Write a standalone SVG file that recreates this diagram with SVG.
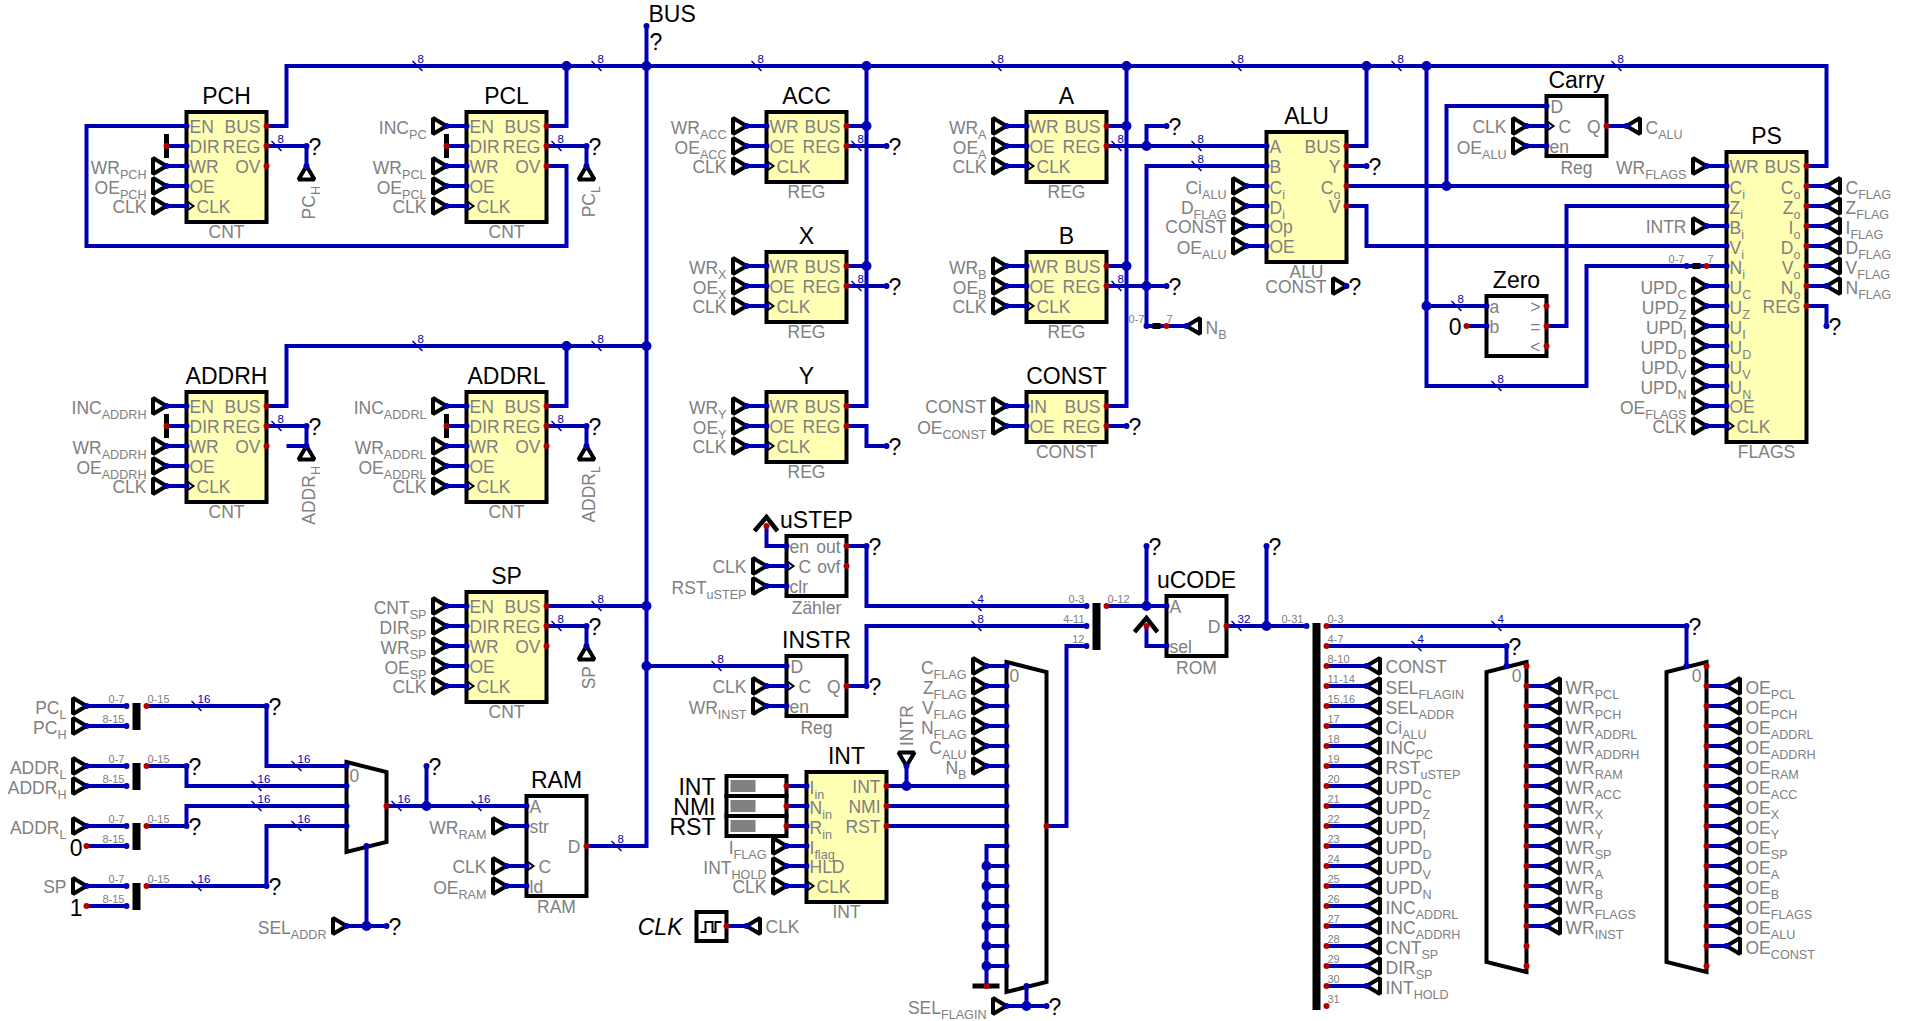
<svg xmlns="http://www.w3.org/2000/svg" width="1908" height="1021" viewBox="0 0 1908 1021">
<style>
text{font-family:"Liberation Sans",Arial,sans-serif;font-size:17.5px;fill:#808080}
.t{fill:#000;font-size:23px;text-anchor:middle}
.c{text-anchor:middle}
.e{text-anchor:end}
.s{font-size:12.6px}
.n{fill:#0000b2;font-size:11.5px}
.g{font-size:11px}
.q{fill:#000;font-size:23px}
.qe{fill:#000;font-size:23px;text-anchor:end}
.w{fill:none;stroke:#0000b2;stroke-width:4}
.tk{fill:none;stroke:#0000b2;stroke-width:1.5}
.bd,.rd,.j{fill:none;stroke-linecap:round}
.bd{stroke:#0000b2;stroke-width:6}
.rd{stroke:#b20000;stroke-width:6}
.j{stroke:#0000b2;stroke-width:10}
.tri{fill:#fff;stroke:#000;stroke-width:4;stroke-linejoin:bevel}
.y{fill:#ffffb4;stroke:#000;stroke-width:4}
.o{fill:#fff;stroke:#000;stroke-width:4}
.ck{fill:none;stroke:#000;stroke-width:2}
.bar{stroke:#000;stroke-width:5;fill:none}
.up{stroke:#000;stroke-width:4.5;fill:none}
</style>
<defs>
<g id="tr"><path class="tri" d="M0,0L-13.5,-8V8Z"/><path class="bd" d="M0,0h.01"/></g>
<g id="tl"><path class="tri" d="M0,0L13.5,-8V8Z"/><path class="bd" d="M0,0h.01"/></g>
<g id="tu"><path class="tri" d="M0,0L-8,13.5H8Z"/><path class="bd" d="M0,0h.01"/></g>
<g id="td"><path class="tri" d="M0,0L-8,-13.5H8Z"/><path class="bd" d="M0,0h.01"/></g>
</defs>
<g transform="translate(-.5,0)">
<g id="connectors">
<path class="w" d="M1807,166H1827V66H287V126H267M547,126H567V66M647,26V846H587M267,406H287V346H647M547,406H567V346M547,606H647M647,666H787M187,126H87V246H567V166H547"/>
<path class="w" d="M267,146H307V166M547,146H587V166M267,426H307V446M287,446H307M547,426H587V446M547,626H587V646"/>
<path class="w" d="M167,146h20m-20,20h20m-20,20h20m-20,20h20M447,126h20m-20,20h20m-20,20h20m-20,20h20m-20,20h20M167,406h20m-20,20h20m-20,20h20m-20,20h20m-20,20h20M447,406h20m-20,20h20m-20,20h20m-20,20h20m-20,20h20M447,606h20m-20,20h20m-20,20h20m-20,20h20m-20,20h20"/>
<path class="w" d="M747,126h20m-20,20h20m-20,20h20M747,266h20m-20,20h20m-20,20h20M747,406h20m-20,20h20m-20,20h20M1007,126h20m-20,20h20m-20,20h20M1007,266h20m-20,20h20m-20,20h20M1007,406h20m-20,20h20"/>
<path class="w" d="M867,66V406H847M847,126H867M847,266H867M847,146H887M847,286H887M847,426H867V446H887M1127,66V406H1107M1107,126H1127M1107,266H1127M1107,426H1127"/>
<path class="w" d="M1107,146H1267M1147,146V126H1167M1107,286H1167M1267,166H1147V326H1187"/>
<path class="w" d="M1347,146H1367V66M1347,166H1367M1347,186H1727M1347,206H1367V246H1727M1247,186h20m-20,20h20m-20,20h20m-20,20h20"/>
<path class="w" d="M1447,186V106H1547M1527,126h20m-20,20h20M1607,126H1627"/>
<path class="w" d="M1427,66V386H1587V266H1727M1427,306H1487M1467,326H1487M1547,326H1567V206H1727"/>
<path class="w" d="M1707,166h20M1707,226h20M1707,286h20m-20,20h20m-20,20h20m-20,20h20m-20,20h20m-20,20h20m-20,20h20m-20,20h20M1807,186h20m-20,20h20m-20,20h20m-20,20h20m-20,20h20m-20,20h20M1807,306H1827V326"/>
<path class="w" d="M787,546H767V526M767,566h20m-20,20h20M847,546H867V606H1087M767,686h20m-20,20h20M847,686H867V626H1087M1087,646H1067V826H1047"/>
<path class="w" d="M1107,606H1167M1147,606V546M1167,646H1147V626M1227,626H1307M1267,626V546M1327,626H1687V666M1327,646H1507V666"/>
<path class="w" d="M1327,666h40m-40,20h40m-40,20h40m-40,20h40m-40,20h40m-40,20h40m-40,20h40m-40,20h40m-40,20h40m-40,20h40m-40,20h40m-40,20h40m-40,20h40m-40,20h40m-40,20h40m-40,20h40m-40,20h40"/>
<path class="w" d="M1527,686h20m-20,20h20m-20,20h20m-20,20h20m-20,20h20m-20,20h20m-20,20h20m-20,20h20m-20,20h20m-20,20h20m-20,20h20m-20,20h20m-20,20h20M1707,686h20m-20,20h20m-20,20h20m-20,20h20m-20,20h20m-20,20h20m-20,20h20m-20,20h20m-20,20h20m-20,20h20m-20,20h20m-20,20h20m-20,20h20m-20,20h20"/>
<path class="w" d="M987,666h20m-20,20h20m-20,20h20m-20,20h20m-20,20h20m-20,20h20M887,786H1007M887,806H1007M887,826H1007M907,786V766M787,786h20m-20,20h20m-20,20h20m-20,20h20m-20,20h20m-20,20h20M1007,846H987V986M987,866h20m-20,20h20m-20,20h20m-20,20h20m-20,20h20m-20,20h20M1007,1006H1047M1027,1006V986M727,926H747"/>
<path class="w" d="M87,706H127M87,726H127M147,706H267V766H347M87,766H127M87,786H127M147,766H187V786H347M87,826H127M87,846H127M147,826H187V806H347M87,886H127M87,906H127M147,886H267V826H347M387,806H527M427,806V766M367,846V926M347,926H387M507,826h20M507,866h20M507,886h20"/>
<path class="j" d="M567,66h.01M647,66h.01M867,66h.01M1127,66h.01M1367,66h.01M1427,66h.01M567,346h.01M647,346h.01M647,606h.01M647,666h.01M867,126h.01M867,266h.01M1127,126h.01M1127,266h.01M1147,146h.01M1147,286h.01M1447,186h.01M1427,306h.01M427,806h.01M367,926h.01M1147,606h.01M1267,626h.01M907,786h.01M1027,1006h.01M987,866h.01M987,886h.01M987,906h.01M987,926h.01M987,946h.01M987,966h.01"/>
<path class="tk" d="M413,61l10,10M592,61l10,10M752,61l10,10M992,61l10,10M1232,61l10,10M1392,61l10,10M1612,61l10,10M413,341l10,10M592,341l10,10M272,141l10,10M552,141l10,10M272,421l10,10M552,421l10,10M552,621l10,10M852,141l10,10M852,281l10,10M1112,141l10,10M1112,281l10,10M592,601l10,10M712,661l10,10M1192,141l10,10M1192,161l10,10M1452,301l10,10M1492,381l10,10M612,841l10,10M972,601l10,10M1412,641l10,10M1492,621l10,10M972,621l10,10M1232,621l10,10M192,701l10,10M292,761l10,10M252,781l10,10M252,801l10,10M292,821l10,10M192,881l10,10M392,801l10,10M472,801l10,10"/>
<text class="n" x="418" y="63">8</text><text class="n" x="598" y="63">8</text><text class="n" x="758" y="63">8</text><text class="n" x="998" y="63">8</text><text class="n" x="1238" y="63">8</text><text class="n" x="1398" y="63">8</text><text class="n" x="1618" y="63">8</text>
<text class="n" x="418" y="343">8</text><text class="n" x="598" y="343">8</text>
<text class="n" x="278" y="143">8</text><text class="n" x="558" y="143">8</text><text class="n" x="278" y="423">8</text><text class="n" x="558" y="423">8</text><text class="n" x="558" y="623">8</text>
<text class="n" x="858" y="143">8</text><text class="n" x="858" y="283">8</text><text class="n" x="1118" y="143">8</text><text class="n" x="1118" y="283">8</text>
<text class="n" x="598" y="603">8</text><text class="n" x="718" y="663">8</text><text class="n" x="1198" y="143">8</text><text class="n" x="1198" y="163">8</text><text class="n" x="1458" y="303">8</text><text class="n" x="1498" y="383">8</text><text class="n" x="618" y="843">8</text>
<text class="n" x="978" y="603">4</text><text class="n" x="978" y="623">8</text><text class="n" x="1418" y="643">4</text><text class="n" x="1498" y="623">4</text><text class="n" x="1238" y="623">32</text>
<text class="n" x="198" y="703">16</text><text class="n" x="298" y="763">16</text><text class="n" x="258" y="783">16</text><text class="n" x="258" y="803">16</text><text class="n" x="298" y="823">16</text><text class="n" x="198" y="883">16</text><text class="n" x="398" y="803">16</text><text class="n" x="478" y="803">16</text>
</g>

<g id="PCH" transform="translate(187,126)"><rect class="y" y="-14" width="80" height="110"/><text class="t" x="40" y="-22">PCH</text><text class="c" x="40" y="112">CNT</text><text x="3" y="7">EN</text><text x="3" y="27">DIR</text><text x="3" y="47">WR</text><text x="3" y="67">OE</text><text x="10" y="87">CLK</text><text class="e" x="74" y="7">BUS</text><text class="e" x="74" y="27">REG</text><text class="e" x="74" y="47">OV</text><path class="ck" d="M0,75L7,80 0,85"/><path class="bd" d="M0,0h.01M0,20h.01M0,40h.01M0,60h.01M0,80h.01"/><path class="rd" d="M80,0h.01M80,20h.01M80,40h.01"/></g>
<g id="PCL" transform="translate(467,126)"><rect class="y" y="-14" width="80" height="110"/><text class="t" x="40" y="-22">PCL</text><text class="c" x="40" y="112">CNT</text><text x="3" y="7">EN</text><text x="3" y="27">DIR</text><text x="3" y="47">WR</text><text x="3" y="67">OE</text><text x="10" y="87">CLK</text><text class="e" x="74" y="7">BUS</text><text class="e" x="74" y="27">REG</text><text class="e" x="74" y="47">OV</text><path class="ck" d="M0,75L7,80 0,85"/><path class="bd" d="M0,0h.01M0,20h.01M0,40h.01M0,60h.01M0,80h.01"/><path class="rd" d="M80,0h.01M80,20h.01M80,40h.01"/></g>
<g id="ADDRH" transform="translate(187,406)"><rect class="y" y="-14" width="80" height="110"/><text class="t" x="40" y="-22">ADDRH</text><text class="c" x="40" y="112">CNT</text><text x="3" y="7">EN</text><text x="3" y="27">DIR</text><text x="3" y="47">WR</text><text x="3" y="67">OE</text><text x="10" y="87">CLK</text><text class="e" x="74" y="7">BUS</text><text class="e" x="74" y="27">REG</text><text class="e" x="74" y="47">OV</text><path class="ck" d="M0,75L7,80 0,85"/><path class="bd" d="M0,0h.01M0,20h.01M0,40h.01M0,60h.01M0,80h.01"/><path class="rd" d="M80,0h.01M80,20h.01M80,40h.01"/></g>
<g id="ADDRL" transform="translate(467,406)"><rect class="y" y="-14" width="80" height="110"/><text class="t" x="40" y="-22">ADDRL</text><text class="c" x="40" y="112">CNT</text><text x="3" y="7">EN</text><text x="3" y="27">DIR</text><text x="3" y="47">WR</text><text x="3" y="67">OE</text><text x="10" y="87">CLK</text><text class="e" x="74" y="7">BUS</text><text class="e" x="74" y="27">REG</text><text class="e" x="74" y="47">OV</text><path class="ck" d="M0,75L7,80 0,85"/><path class="bd" d="M0,0h.01M0,20h.01M0,40h.01M0,60h.01M0,80h.01"/><path class="rd" d="M80,0h.01M80,20h.01M80,40h.01"/></g>
<g id="SP" transform="translate(467,606)"><rect class="y" y="-14" width="80" height="110"/><text class="t" x="40" y="-22">SP</text><text class="c" x="40" y="112">CNT</text><text x="3" y="7">EN</text><text x="3" y="27">DIR</text><text x="3" y="47">WR</text><text x="3" y="67">OE</text><text x="10" y="87">CLK</text><text class="e" x="74" y="7">BUS</text><text class="e" x="74" y="27">REG</text><text class="e" x="74" y="47">OV</text><path class="ck" d="M0,75L7,80 0,85"/><path class="bd" d="M0,0h.01M0,20h.01M0,40h.01M0,60h.01M0,80h.01"/><path class="rd" d="M80,0h.01M80,20h.01M80,40h.01"/></g>

<g id="ACC" transform="translate(767,126)"><rect class="y" y="-14" width="80" height="70"/><text class="t" x="40" y="-22">ACC</text><text class="c" x="40" y="72">REG</text><text x="3" y="7">WR</text><text x="3" y="27">OE</text><text x="10" y="47">CLK</text><text class="e" x="74" y="7">BUS</text><text class="e" x="74" y="27">REG</text><path class="ck" d="M0,35L7,40 0,45"/><path class="bd" d="M0,0h.01M0,20h.01M0,40h.01"/><path class="rd" d="M80,0h.01M80,20h.01"/></g>
<g id="X" transform="translate(767,266)"><rect class="y" y="-14" width="80" height="70"/><text class="t" x="40" y="-22">X</text><text class="c" x="40" y="72">REG</text><text x="3" y="7">WR</text><text x="3" y="27">OE</text><text x="10" y="47">CLK</text><text class="e" x="74" y="7">BUS</text><text class="e" x="74" y="27">REG</text><path class="ck" d="M0,35L7,40 0,45"/><path class="bd" d="M0,0h.01M0,20h.01M0,40h.01"/><path class="rd" d="M80,0h.01M80,20h.01"/></g>
<g id="Y" transform="translate(767,406)"><rect class="y" y="-14" width="80" height="70"/><text class="t" x="40" y="-22">Y</text><text class="c" x="40" y="72">REG</text><text x="3" y="7">WR</text><text x="3" y="27">OE</text><text x="10" y="47">CLK</text><text class="e" x="74" y="7">BUS</text><text class="e" x="74" y="27">REG</text><path class="ck" d="M0,35L7,40 0,45"/><path class="bd" d="M0,0h.01M0,20h.01M0,40h.01"/><path class="rd" d="M80,0h.01M80,20h.01"/></g>
<g id="A" transform="translate(1027,126)"><rect class="y" y="-14" width="80" height="70"/><text class="t" x="40" y="-22">A</text><text class="c" x="40" y="72">REG</text><text x="3" y="7">WR</text><text x="3" y="27">OE</text><text x="10" y="47">CLK</text><text class="e" x="74" y="7">BUS</text><text class="e" x="74" y="27">REG</text><path class="ck" d="M0,35L7,40 0,45"/><path class="bd" d="M0,0h.01M0,20h.01M0,40h.01"/><path class="rd" d="M80,0h.01M80,20h.01"/></g>
<g id="B" transform="translate(1027,266)"><rect class="y" y="-14" width="80" height="70"/><text class="t" x="40" y="-22">B</text><text class="c" x="40" y="72">REG</text><text x="3" y="7">WR</text><text x="3" y="27">OE</text><text x="10" y="47">CLK</text><text class="e" x="74" y="7">BUS</text><text class="e" x="74" y="27">REG</text><path class="ck" d="M0,35L7,40 0,45"/><path class="bd" d="M0,0h.01M0,20h.01M0,40h.01"/><path class="rd" d="M80,0h.01M80,20h.01"/></g>
<g id="CONST" transform="translate(1027,406)"><rect class="y" y="-14" width="80" height="50"/><text class="t" x="40" y="-22">CONST</text><text class="c" x="40" y="52">CONST</text><text x="3" y="7">IN</text><text x="3" y="27">OE</text><text class="e" x="74" y="7">BUS</text><text class="e" x="74" y="27">REG</text><path class="bd" d="M0,0h.01M0,20h.01"/><path class="rd" d="M80,0h.01M80,20h.01"/></g>

<g id="ALU" transform="translate(1267,146)"><rect class="y" y="-14" width="80" height="130"/><text class="t" x="40" y="-22">ALU</text><text class="c" x="40" y="132">ALU</text><text x="3" y="7">A</text><text x="3" y="27">B</text><text x="3" y="47.5">C<tspan class="s" dy="5.5">i</tspan></text><text x="3" y="67.5">D<tspan class="s" dy="5.5">i</tspan></text><text x="3" y="87">Op</text><text x="3" y="107">OE</text><text class="e" x="74" y="7">BUS</text><text class="e" x="74" y="27">Y</text><text class="e" x="74" y="47.5">C<tspan class="s" dy="5.5">o</tspan></text><text class="e" x="74" y="67">V</text><path class="bd" d="M0,0h.01M0,20h.01M0,40h.01M0,60h.01M0,80h.01M0,100h.01"/><path class="rd" d="M80,0h.01M80,20h.01M80,40h.01M80,60h.01"/></g>
<g id="Carry" transform="translate(1547,106)"><rect class="o" y="-10" width="60" height="60"/><text class="t" x="30" y="-18">Carry</text><text class="c" x="30" y="68">Reg</text><text x="4" y="7">D</text><text x="12" y="27">C</text><text x="3" y="47">en</text><text class="e" x="54" y="27">Q</text><path class="ck" d="M0,15L7,20 0,25"/><path class="bd" d="M0,0h.01M0,20h.01M0,40h.01"/><path class="rd" d="M60,20h.01"/></g>
<g id="Zero" transform="translate(1487,306)"><rect class="o" y="-10" width="60" height="60"/><text class="t" x="30" y="-18">Zero</text><text x="3" y="7">a</text><text x="3" y="27">b</text><text class="e" x="54" y="7">&gt;</text><text class="e" x="54" y="27">=</text><text class="e" x="54" y="47">&lt;</text><path class="bd" d="M0,0h.01M0,20h.01"/><path class="rd" d="M60,0h.01M60,20h.01M60,40h.01"/></g>
<g id="PS" transform="translate(1727,166)"><rect class="y" y="-14" width="80" height="290"/><text class="t" x="40" y="-22">PS</text><text class="c" x="40" y="292">FLAGS</text><text x="3" y="7">WR</text><text x="3" y="27.5">C<tspan class="s" dy="5.5">i</tspan></text><text x="3" y="47.5">Z<tspan class="s" dy="5.5">i</tspan></text><text x="3" y="67.5">B<tspan class="s" dy="5.5">i</tspan></text><text x="3" y="87.5">V<tspan class="s" dy="5.5">i</tspan></text><text x="3" y="107.5">N<tspan class="s" dy="5.5">i</tspan></text><text x="3" y="127.5">U<tspan class="s" dy="5.5">C</tspan></text><text x="3" y="147.5">U<tspan class="s" dy="5.5">Z</tspan></text><text x="3" y="167.5">U<tspan class="s" dy="5.5">I</tspan></text><text x="3" y="187.5">U<tspan class="s" dy="5.5">D</tspan></text><text x="3" y="207.5">U<tspan class="s" dy="5.5">V</tspan></text><text x="3" y="227.5">U<tspan class="s" dy="5.5">N</tspan></text><text x="3" y="247">OE</text><text x="10" y="267">CLK</text><text class="e" x="74" y="7">BUS</text><text class="e" x="74" y="27.5">C<tspan class="s" dy="5.5">o</tspan></text><text class="e" x="74" y="47.5">Z<tspan class="s" dy="5.5">o</tspan></text><text class="e" x="74" y="67.5">I<tspan class="s" dy="5.5">o</tspan></text><text class="e" x="74" y="87.5">D<tspan class="s" dy="5.5">o</tspan></text><text class="e" x="74" y="107.5">V<tspan class="s" dy="5.5">o</tspan></text><text class="e" x="74" y="127.5">N<tspan class="s" dy="5.5">o</tspan></text><text class="e" x="74" y="147">REG</text><path class="ck" d="M0,255L7,260 0,265"/><path class="bd" d="M0,0h.01M0,20h.01M0,40h.01M0,60h.01M0,80h.01M0,100h.01M0,120h.01M0,140h.01M0,160h.01M0,180h.01M0,200h.01M0,220h.01M0,240h.01M0,260h.01"/><path class="rd" d="M80,0h.01M80,20h.01M80,40h.01M80,60h.01M80,80h.01M80,100h.01M80,120h.01M80,140h.01"/></g>

<g id="uSTEP" transform="translate(787,546)"><rect class="o" y="-10" width="60" height="60"/><text class="t" x="30" y="-18">uSTEP</text><text class="c" x="30" y="68">Zähler</text><text x="3" y="7">en</text><text x="12" y="27">C</text><text x="3" y="47">clr</text><text class="e" x="54" y="7">out</text><text class="e" x="54" y="27">ovf</text><path class="ck" d="M0,15L7,20 0,25"/><path class="bd" d="M0,0h.01M0,20h.01M0,40h.01"/><path class="rd" d="M60,0h.01M60,20h.01"/></g>
<g id="INSTR" transform="translate(787,666)"><rect class="o" y="-10" width="60" height="60"/><text class="t" x="30" y="-18">INSTR</text><text class="c" x="30" y="68">Reg</text><text x="4" y="7">D</text><text x="12" y="27">C</text><text x="3" y="47">en</text><text class="e" x="54" y="27">Q</text><path class="ck" d="M0,15L7,20 0,25"/><path class="bd" d="M0,0h.01M0,20h.01M0,40h.01"/><path class="rd" d="M60,20h.01"/></g>
<g id="uCODE" transform="translate(1167,606)"><rect class="o" y="-10" width="60" height="60"/><text class="t" x="30" y="-18">uCODE</text><text class="c" x="30" y="68">ROM</text><text x="3" y="7">A</text><text x="3" y="47">sel</text><text class="e" x="54" y="27">D</text><path class="bd" d="M0,0h.01M0,40h.01"/><path class="rd" d="M60,20h.01"/></g>
<g id="RAM" transform="translate(527,806)"><rect class="o" y="-10" width="60" height="100"/><text class="t" x="30" y="-18">RAM</text><text class="c" x="30" y="107">RAM</text><text x="3" y="7">A</text><text x="3" y="27">str</text><text x="12" y="67">C</text><text x="3" y="87">ld</text><text class="e" x="54" y="47">D</text><path class="ck" d="M0,55L7,60 0,65"/><path class="bd" d="M0,0h.01M0,20h.01M0,60h.01M0,80h.01"/><path class="rd" d="M60,40h.01"/></g>
<g id="INT" transform="translate(807,786)"><rect class="y" y="-14" width="80" height="130"/><text class="t" x="40" y="-22">INT</text><text class="c" x="40" y="132">INT</text><text x="3" y="7.5">I<tspan class="s" dy="5.5">in</tspan></text><text x="3" y="27.5">N<tspan class="s" dy="5.5">in</tspan></text><text x="3" y="47.5">R<tspan class="s" dy="5.5">in</tspan></text><text x="3" y="67.5">I<tspan class="s" dy="5.5">flag</tspan></text><text x="3" y="87">HLD</text><text x="10" y="107">CLK</text><text class="e" x="74" y="7">INT</text><text class="e" x="74" y="27">NMI</text><text class="e" x="74" y="47">RST</text><path class="ck" d="M0,95L7,100 0,105"/><path class="bd" d="M0,0h.01M0,20h.01M0,40h.01M0,60h.01M0,80h.01M0,100h.01"/><path class="rd" d="M80,0h.01M80,20h.01M80,40h.01"/></g>

<g id="mux-addr"><path class="o" d="M347,762L387,772V842L347,852Z"/><text x="350" y="782">0</text><path class="bd" d="M347,766h.01M347,786h.01M347,806h.01M347,826h.01M367,846h.01"/><path class="rd" d="M387,806h.01"/></g>
<g id="mux-flag"><path class="o" d="M1007,662L1047,672V982L1007,992Z"/><text x="1010" y="682">0</text><path class="bd" d="M1007,666h.01M1007,686h.01M1007,706h.01M1007,726h.01M1007,746h.01M1007,766h.01M1007,786h.01M1007,806h.01M1007,826h.01M1007,846h.01M1007,866h.01M1007,886h.01M1007,906h.01M1007,926h.01M1007,946h.01M1007,966h.01M1027,986h.01"/><path class="rd" d="M1047,826h.01"/></g>
<g id="mux-wr"><path class="o" d="M1527,662V972L1487,962V672Z"/><text class="e" x="1522" y="682">0</text><path class="bd" d="M1507,666h.01"/><path class="rd" d="M1527,666h.01M1527,686h.01M1527,706h.01M1527,726h.01M1527,746h.01M1527,766h.01M1527,786h.01M1527,806h.01M1527,826h.01M1527,846h.01M1527,866h.01M1527,886h.01M1527,906h.01M1527,926h.01M1527,946h.01M1527,966h.01"/></g>
<g id="mux-oe"><path class="o" d="M1707,662V972L1667,962V672Z"/><text class="e" x="1702" y="682">0</text><path class="bd" d="M1687,666h.01"/><path class="rd" d="M1707,666h.01M1707,686h.01M1707,706h.01M1707,726h.01M1707,746h.01M1707,766h.01M1707,786h.01M1707,806h.01M1707,826h.01M1707,846h.01M1707,866h.01M1707,886h.01M1707,906h.01M1707,926h.01M1707,946h.01M1707,966h.01"/></g>

<g id="split-1"><rect x="133" y="703" width="8" height="27"/><text class="g e" x="125" y="703">0-7</text><text class="g e" x="125" y="723">8-15</text><text class="g" x="148" y="703">0-15</text><path class="bd" d="M127,706h.01M127,726h.01"/><path class="rd" d="M147,706h.01"/></g>
<g id="split-2"><rect x="133" y="763" width="8" height="27"/><text class="g e" x="125" y="763">0-7</text><text class="g e" x="125" y="783">8-15</text><text class="g" x="148" y="763">0-15</text><path class="bd" d="M127,766h.01M127,786h.01"/><path class="rd" d="M147,766h.01"/></g>
<g id="split-3"><rect x="133" y="823" width="8" height="27"/><text class="g e" x="125" y="823">0-7</text><text class="g e" x="125" y="843">8-15</text><text class="g" x="148" y="823">0-15</text><path class="bd" d="M127,826h.01M127,846h.01"/><path class="rd" d="M147,826h.01"/></g>
<g id="split-4"><rect x="133" y="883" width="8" height="27"/><text class="g e" x="125" y="883">0-7</text><text class="g e" x="125" y="903">8-15</text><text class="g" x="148" y="883">0-15</text><path class="bd" d="M127,886h.01M127,906h.01"/><path class="rd" d="M147,886h.01"/></g>
<g id="split-nb"><rect x="1153" y="323" width="8" height="6"/><text class="g e" x="1145" y="323">0-7</text><text class="g c" x="1170" y="323">7</text><path class="bd" d="M1147,326h.01"/><path class="rd" d="M1167,326h.01"/></g>
<g id="split-ni"><rect x="1693" y="263" width="8" height="6"/><text class="g e" x="1685" y="263">0-7</text><text class="g c" x="1711" y="263">7</text><path class="bd" d="M1687,266h.01"/><path class="rd" d="M1707,266h.01"/></g>
<g id="split-addr"><rect x="1093" y="603" width="8" height="47"/><text class="g e" x="1085" y="603">0-3</text><text class="g e" x="1085" y="623">4-11</text><text class="g e" x="1085" y="643">12</text><text class="g" x="1108" y="603">0-12</text><path class="bd" d="M1087,606h.01M1087,626h.01M1087,646h.01"/><path class="rd" d="M1107,606h.01"/></g>
<g id="split-rom"><rect x="1313" y="623" width="8" height="387"/><text class="g e" x="1304" y="623">0-31</text><path class="bd" d="M1307,626h.01"/><path class="rd" d="M1327,626h.01M1327,646h.01M1327,666h.01M1327,686h.01M1327,706h.01M1327,726h.01M1327,746h.01M1327,766h.01M1327,786h.01M1327,806h.01M1327,826h.01M1327,846h.01M1327,866h.01M1327,886h.01M1327,906h.01M1327,926h.01M1327,946h.01M1327,966h.01M1327,986h.01M1327,1006h.01"/><text class="g" x="1328" y="623">0-3</text><text class="g" x="1328" y="643">4-7</text><text class="g" x="1328" y="663">8-10</text><text class="g" x="1328" y="683">11-14</text><text class="g" x="1328" y="703">15,16</text><text class="g" x="1328" y="723">17</text><text class="g" x="1328" y="743">18</text><text class="g" x="1328" y="763">19</text><text class="g" x="1328" y="783">20</text><text class="g" x="1328" y="803">21</text><text class="g" x="1328" y="823">22</text><text class="g" x="1328" y="843">23</text><text class="g" x="1328" y="863">24</text><text class="g" x="1328" y="883">25</text><text class="g" x="1328" y="903">26</text><text class="g" x="1328" y="923">27</text><text class="g" x="1328" y="943">28</text><text class="g" x="1328" y="963">29</text><text class="g" x="1328" y="983">30</text><text class="g" x="1328" y="1003">31</text></g>

<g id="btn-int"><rect class="o" x="727" y="776" width="60" height="20"/><rect x="731" y="780" width="25" height="12" fill="#808080"/><text class="qe" x="716" y="795">INT</text><path class="rd" d="M787,786h.01"/></g>
<g id="btn-nmi"><rect class="o" x="727" y="796" width="60" height="20"/><rect x="731" y="800" width="25" height="12" fill="#808080"/><text class="qe" x="716" y="815">NMI</text><path class="rd" d="M787,806h.01"/></g>
<g id="btn-rst"><rect class="o" x="727" y="816" width="60" height="20"/><rect x="731" y="820" width="25" height="12" fill="#808080"/><text class="qe" x="716" y="835">RST</text><path class="rd" d="M787,826h.01"/></g>
<g id="clock"><rect class="o" x="697" y="912" width="30" height="29"/><path fill="none" stroke="#000" stroke-width="2" d="M701,932h5V922h7v10h3V922h6"/><text class="qe" x="683" y="935" font-style="italic">CLK</text><path class="rd" d="M727,926h.01"/></g>

<g id="bar-pch"><path class="bar" d="M167,134V158"/><path class="rd" d="M167,146h.01"/></g>
<g id="bar-pcl"><path class="bar" d="M447,134V158"/><path class="rd" d="M447,146h.01"/></g>
<g id="bar-addrh"><path class="bar" d="M167,414V438"/><path class="rd" d="M167,426h.01"/></g>
<g id="bar-addrl"><path class="bar" d="M447,414V438"/><path class="rd" d="M447,426h.01"/></g>
<g id="gnd-flag"><path class="bar" d="M973,986H1000"/><path class="rd" d="M987,986h.01"/></g>
<g id="vdd-ustep"><path class="up" d="M755,531L767,517 778,531"/><path class="rd" d="M767,526h.01"/></g>
<g id="vdd-rom"><path class="up" d="M1135,632L1147,618 1158,632"/><path class="rd" d="M1147,626h.01"/></g>
<g id="const-0a"><text class="qe" x="1462" y="335">0</text><path class="rd" d="M1467,326h.01"/></g>
<g id="const-0b"><text class="qe" x="83" y="856">0</text><path class="rd" d="M87,846h.01"/></g>
<g id="const-1"><text class="qe" x="83" y="916">1</text><path class="rd" d="M87,906h.01"/></g>

<g id="bus"><path class="bd" d="M647,26h.01"/><text class="q" x="649" y="22">BUS</text><text class="q" x="650" y="50">?</text></g>
<g id="q1"><path class="bd" d="M307,146h.01"/><text class="q" x="309" y="155">?</text></g>
<g id="q2"><path class="bd" d="M587,146h.01"/><text class="q" x="589" y="155">?</text></g>
<g id="q3"><path class="bd" d="M307,426h.01"/><text class="q" x="309" y="435">?</text></g>
<g id="q4"><path class="bd" d="M587,426h.01"/><text class="q" x="589" y="435">?</text></g>
<g id="q5"><path class="bd" d="M587,626h.01"/><text class="q" x="589" y="635">?</text></g>
<g id="q6"><path class="bd" d="M887,146h.01"/><text class="q" x="889" y="155">?</text></g>
<g id="q7"><path class="bd" d="M887,286h.01"/><text class="q" x="889" y="295">?</text></g>
<g id="q8"><path class="bd" d="M887,446h.01"/><text class="q" x="889" y="455">?</text></g>
<g id="q9"><path class="bd" d="M1167,126h.01"/><text class="q" x="1169" y="135">?</text></g>
<g id="q10"><path class="bd" d="M1167,286h.01"/><text class="q" x="1169" y="295">?</text></g>
<g id="q11"><path class="bd" d="M1127,426h.01"/><text class="q" x="1129" y="435">?</text></g>
<g id="q12"><path class="bd" d="M1367,166h.01"/><text class="q" x="1369" y="175">?</text></g>
<g id="q13"><path class="bd" d="M1827,326h.01"/><text class="q" x="1829" y="335">?</text></g>
<g id="q14"><path class="bd" d="M267,706h.01"/><text class="q" x="269" y="715">?</text></g>
<g id="q15"><path class="bd" d="M187,766h.01"/><text class="q" x="189" y="775">?</text></g>
<g id="q16"><path class="bd" d="M187,826h.01"/><text class="q" x="189" y="835">?</text></g>
<g id="q17"><path class="bd" d="M267,886h.01"/><text class="q" x="269" y="895">?</text></g>
<g id="q18"><path class="bd" d="M427,766h.01"/><text class="q" x="429" y="775">?</text></g>
<g id="q19"><path class="bd" d="M387,926h.01"/><text class="q" x="389" y="935">?</text></g>
<g id="q20"><path class="bd" d="M867,546h.01"/><text class="q" x="869" y="555">?</text></g>
<g id="q21"><path class="bd" d="M867,686h.01"/><text class="q" x="869" y="695">?</text></g>
<g id="q22"><path class="bd" d="M1147,546h.01"/><text class="q" x="1149" y="555">?</text></g>
<g id="q23"><path class="bd" d="M1267,546h.01"/><text class="q" x="1269" y="555">?</text></g>
<g id="q24"><path class="bd" d="M1507,646h.01"/><text class="q" x="1509" y="655">?</text></g>
<g id="q25"><path class="bd" d="M1687,626h.01"/><text class="q" x="1689" y="635">?</text></g>
<g id="q26"><path class="bd" d="M1047,1006h.01"/><text class="q" x="1049" y="1015">?</text></g>

<g id="wrpch" transform="translate(167,166)"><use href="#tr"/><text class="e" x="-20" y="7.5">WR<tspan class="s" dy="5.5">PCH</tspan></text></g>
<g id="oepch" transform="translate(167,186)"><use href="#tr"/><text class="e" x="-20" y="7.5">OE<tspan class="s" dy="5.5">PCH</tspan></text></g>
<g id="clk1" transform="translate(167,206)"><use href="#tr"/><text class="e" x="-20" y="7">CLK</text></g>
<g id="incpc" transform="translate(447,126)"><use href="#tr"/><text class="e" x="-20" y="7.5">INC<tspan class="s" dy="5.5">PC</tspan></text></g>
<g id="wrpcl" transform="translate(447,166)"><use href="#tr"/><text class="e" x="-20" y="7.5">WR<tspan class="s" dy="5.5">PCL</tspan></text></g>
<g id="oepcl" transform="translate(447,186)"><use href="#tr"/><text class="e" x="-20" y="7.5">OE<tspan class="s" dy="5.5">PCL</tspan></text></g>
<g id="clk2" transform="translate(447,206)"><use href="#tr"/><text class="e" x="-20" y="7">CLK</text></g>
<g id="inaddrh" transform="translate(167,406)"><use href="#tr"/><text class="e" x="-20" y="7.5">INC<tspan class="s" dy="5.5">ADDRH</tspan></text></g>
<g id="wraddrh" transform="translate(167,446)"><use href="#tr"/><text class="e" x="-20" y="7.5">WR<tspan class="s" dy="5.5">ADDRH</tspan></text></g>
<g id="oeaddrh" transform="translate(167,466)"><use href="#tr"/><text class="e" x="-20" y="7.5">OE<tspan class="s" dy="5.5">ADDRH</tspan></text></g>
<g id="clk3" transform="translate(167,486)"><use href="#tr"/><text class="e" x="-20" y="7">CLK</text></g>
<g id="inaddrl" transform="translate(447,406)"><use href="#tr"/><text class="e" x="-20" y="7.5">INC<tspan class="s" dy="5.5">ADDRL</tspan></text></g>
<g id="wraddrl" transform="translate(447,446)"><use href="#tr"/><text class="e" x="-20" y="7.5">WR<tspan class="s" dy="5.5">ADDRL</tspan></text></g>
<g id="oeaddrl" transform="translate(447,466)"><use href="#tr"/><text class="e" x="-20" y="7.5">OE<tspan class="s" dy="5.5">ADDRL</tspan></text></g>
<g id="clk4" transform="translate(447,486)"><use href="#tr"/><text class="e" x="-20" y="7">CLK</text></g>
<g id="cntsp" transform="translate(447,606)"><use href="#tr"/><text class="e" x="-20" y="7.5">CNT<tspan class="s" dy="5.5">SP</tspan></text></g>
<g id="dirsp" transform="translate(447,626)"><use href="#tr"/><text class="e" x="-20" y="7.5">DIR<tspan class="s" dy="5.5">SP</tspan></text></g>
<g id="wrsp" transform="translate(447,646)"><use href="#tr"/><text class="e" x="-20" y="7.5">WR<tspan class="s" dy="5.5">SP</tspan></text></g>
<g id="oesp" transform="translate(447,666)"><use href="#tr"/><text class="e" x="-20" y="7.5">OE<tspan class="s" dy="5.5">SP</tspan></text></g>
<g id="clk5" transform="translate(447,686)"><use href="#tr"/><text class="e" x="-20" y="7">CLK</text></g>

<g id="pch-out" transform="translate(307,166)"><use href="#tu"/><text class="e" transform="translate(8,20) rotate(-90)">PC<tspan class="s" dy="5.5">H</tspan></text></g>
<g id="pcl-out" transform="translate(587,166)"><use href="#tu"/><text class="e" transform="translate(8,20) rotate(-90)">PC<tspan class="s" dy="5.5">L</tspan></text></g>
<g id="addrh-out" transform="translate(307,446)"><use href="#tu"/><text class="e" transform="translate(8,20) rotate(-90)">ADDR<tspan class="s" dy="5.5">H</tspan></text></g>
<g id="addrl-out" transform="translate(587,446)"><use href="#tu"/><text class="e" transform="translate(8,20) rotate(-90)">ADDR<tspan class="s" dy="5.5">L</tspan></text></g>
<g id="sp-out" transform="translate(587,646)"><use href="#tu"/><text class="e" transform="translate(8,20) rotate(-90)">SP</text></g>

<g id="wracc" transform="translate(747,126)"><use href="#tr"/><text class="e" x="-20" y="7.5">WR<tspan class="s" dy="5.5">ACC</tspan></text></g>
<g id="oeacc" transform="translate(747,146)"><use href="#tr"/><text class="e" x="-20" y="7.5">OE<tspan class="s" dy="5.5">ACC</tspan></text></g>
<g id="clk6" transform="translate(747,166)"><use href="#tr"/><text class="e" x="-20" y="7">CLK</text></g>
<g id="wrx" transform="translate(747,266)"><use href="#tr"/><text class="e" x="-20" y="7.5">WR<tspan class="s" dy="5.5">X</tspan></text></g>
<g id="oex" transform="translate(747,286)"><use href="#tr"/><text class="e" x="-20" y="7.5">OE<tspan class="s" dy="5.5">X</tspan></text></g>
<g id="clk7" transform="translate(747,306)"><use href="#tr"/><text class="e" x="-20" y="7">CLK</text></g>
<g id="wry" transform="translate(747,406)"><use href="#tr"/><text class="e" x="-20" y="7.5">WR<tspan class="s" dy="5.5">Y</tspan></text></g>
<g id="oey" transform="translate(747,426)"><use href="#tr"/><text class="e" x="-20" y="7.5">OE<tspan class="s" dy="5.5">Y</tspan></text></g>
<g id="clk8" transform="translate(747,446)"><use href="#tr"/><text class="e" x="-20" y="7">CLK</text></g>
<g id="wra" transform="translate(1007,126)"><use href="#tr"/><text class="e" x="-20" y="7.5">WR<tspan class="s" dy="5.5">A</tspan></text></g>
<g id="oea" transform="translate(1007,146)"><use href="#tr"/><text class="e" x="-20" y="7.5">OE<tspan class="s" dy="5.5">A</tspan></text></g>
<g id="clk9" transform="translate(1007,166)"><use href="#tr"/><text class="e" x="-20" y="7">CLK</text></g>
<g id="wrb" transform="translate(1007,266)"><use href="#tr"/><text class="e" x="-20" y="7.5">WR<tspan class="s" dy="5.5">B</tspan></text></g>
<g id="oeb" transform="translate(1007,286)"><use href="#tr"/><text class="e" x="-20" y="7.5">OE<tspan class="s" dy="5.5">B</tspan></text></g>
<g id="clk10" transform="translate(1007,306)"><use href="#tr"/><text class="e" x="-20" y="7">CLK</text></g>
<g id="const-in" transform="translate(1007,406)"><use href="#tr"/><text class="e" x="-20" y="7">CONST</text></g>
<g id="oeconst" transform="translate(1007,426)"><use href="#tr"/><text class="e" x="-20" y="7.5">OE<tspan class="s" dy="5.5">CONST</tspan></text></g>

<g id="cialu" transform="translate(1247,186)"><use href="#tr"/><text class="e" x="-20" y="7.5">Ci<tspan class="s" dy="5.5">ALU</tspan></text></g>
<g id="dflag-a" transform="translate(1247,206)"><use href="#tr"/><text class="e" x="-20" y="7.5">D<tspan class="s" dy="5.5">FLAG</tspan></text></g>
<g id="const-a" transform="translate(1247,226)"><use href="#tr"/><text class="e" x="-20" y="7">CONST</text></g>
<g id="oealu" transform="translate(1247,246)"><use href="#tr"/><text class="e" x="-20" y="7.5">OE<tspan class="s" dy="5.5">ALU</tspan></text></g>
<g id="const-q" transform="translate(1347,286)"><use href="#tr"/><text class="e" x="-20" y="7">CONST</text><text class="q" x="2" y="9">?</text></g>
<g id="nb" transform="translate(1187,326)"><use href="#tl"/><text x="19" y="7.5">N<tspan class="s" dy="5.5">B</tspan></text></g>
<g id="clk11" transform="translate(1527,126)"><use href="#tr"/><text class="e" x="-20" y="7">CLK</text></g>
<g id="oealu2" transform="translate(1527,146)"><use href="#tr"/><text class="e" x="-20" y="7.5">OE<tspan class="s" dy="5.5">ALU</tspan></text></g>
<g id="calu" transform="translate(1627,126)"><use href="#tl"/><text x="19" y="7.5">C<tspan class="s" dy="5.5">ALU</tspan></text></g>

<g id="wrflags" transform="translate(1707,166)"><use href="#tr"/><text class="e" x="-20" y="7.5">WR<tspan class="s" dy="5.5">FLAGS</tspan></text></g>
<g id="intr-ps" transform="translate(1707,226)"><use href="#tr"/><text class="e" x="-20" y="7">INTR</text></g>
<g id="updc" transform="translate(1707,286)"><use href="#tr"/><text class="e" x="-20" y="7.5">UPD<tspan class="s" dy="5.5">C</tspan></text></g>
<g id="updz" transform="translate(1707,306)"><use href="#tr"/><text class="e" x="-20" y="7.5">UPD<tspan class="s" dy="5.5">Z</tspan></text></g>
<g id="updi" transform="translate(1707,326)"><use href="#tr"/><text class="e" x="-20" y="7.5">UPD<tspan class="s" dy="5.5">I</tspan></text></g>
<g id="updd" transform="translate(1707,346)"><use href="#tr"/><text class="e" x="-20" y="7.5">UPD<tspan class="s" dy="5.5">D</tspan></text></g>
<g id="updv" transform="translate(1707,366)"><use href="#tr"/><text class="e" x="-20" y="7.5">UPD<tspan class="s" dy="5.5">V</tspan></text></g>
<g id="updn" transform="translate(1707,386)"><use href="#tr"/><text class="e" x="-20" y="7.5">UPD<tspan class="s" dy="5.5">N</tspan></text></g>
<g id="oeflags" transform="translate(1707,406)"><use href="#tr"/><text class="e" x="-20" y="7.5">OE<tspan class="s" dy="5.5">FLAGS</tspan></text></g>
<g id="clk12" transform="translate(1707,426)"><use href="#tr"/><text class="e" x="-20" y="7">CLK</text></g>
<g id="cflag" transform="translate(1827,186)"><use href="#tl"/><text x="19" y="7.5">C<tspan class="s" dy="5.5">FLAG</tspan></text></g>
<g id="zflag" transform="translate(1827,206)"><use href="#tl"/><text x="19" y="7.5">Z<tspan class="s" dy="5.5">FLAG</tspan></text></g>
<g id="iflag" transform="translate(1827,226)"><use href="#tl"/><text x="19" y="7.5">I<tspan class="s" dy="5.5">FLAG</tspan></text></g>
<g id="dflag" transform="translate(1827,246)"><use href="#tl"/><text x="19" y="7.5">D<tspan class="s" dy="5.5">FLAG</tspan></text></g>
<g id="vflag" transform="translate(1827,266)"><use href="#tl"/><text x="19" y="7.5">V<tspan class="s" dy="5.5">FLAG</tspan></text></g>
<g id="nflag" transform="translate(1827,286)"><use href="#tl"/><text x="19" y="7.5">N<tspan class="s" dy="5.5">FLAG</tspan></text></g>

<g id="pcl-tl" transform="translate(87,706)"><use href="#tr"/><text class="e" x="-20" y="7.5">PC<tspan class="s" dy="5.5">L</tspan></text></g>
<g id="pch-tl" transform="translate(87,726)"><use href="#tr"/><text class="e" x="-20" y="7.5">PC<tspan class="s" dy="5.5">H</tspan></text></g>
<g id="addrl-t1" transform="translate(87,766)"><use href="#tr"/><text class="e" x="-20" y="7.5">ADDR<tspan class="s" dy="5.5">L</tspan></text></g>
<g id="addrh-t" transform="translate(87,786)"><use href="#tr"/><text class="e" x="-20" y="7.5">ADDR<tspan class="s" dy="5.5">H</tspan></text></g>
<g id="addrl-t2" transform="translate(87,826)"><use href="#tr"/><text class="e" x="-20" y="7.5">ADDR<tspan class="s" dy="5.5">L</tspan></text></g>
<g id="sp-t" transform="translate(87,886)"><use href="#tr"/><text class="e" x="-20" y="7">SP</text></g>
<g id="seladdr" transform="translate(347,926)"><use href="#tr"/><text class="e" x="-20" y="7.5">SEL<tspan class="s" dy="5.5">ADDR</tspan></text></g>
<g id="wrram" transform="translate(507,826)"><use href="#tr"/><text class="e" x="-20" y="7.5">WR<tspan class="s" dy="5.5">RAM</tspan></text></g>
<g id="clk13" transform="translate(507,866)"><use href="#tr"/><text class="e" x="-20" y="7">CLK</text></g>
<g id="oeram" transform="translate(507,886)"><use href="#tr"/><text class="e" x="-20" y="7.5">OE<tspan class="s" dy="5.5">RAM</tspan></text></g>

<g id="clk14" transform="translate(767,566)"><use href="#tr"/><text class="e" x="-20" y="7">CLK</text></g>
<g id="rstustep" transform="translate(767,586)"><use href="#tr"/><text class="e" x="-20" y="7.5">RST<tspan class="s" dy="5.5">uSTEP</tspan></text></g>
<g id="clk15" transform="translate(767,686)"><use href="#tr"/><text class="e" x="-20" y="7">CLK</text></g>
<g id="wrinst" transform="translate(767,706)"><use href="#tr"/><text class="e" x="-20" y="7.5">WR<tspan class="s" dy="5.5">INST</tspan></text></g>
<g id="iflag-i" transform="translate(787,846)"><use href="#tr"/><text class="e" x="-20" y="7.5">I<tspan class="s" dy="5.5">FLAG</tspan></text></g>
<g id="inthold" transform="translate(787,866)"><use href="#tr"/><text class="e" x="-20" y="7.5">INT<tspan class="s" dy="5.5">HOLD</tspan></text></g>
<g id="clk16" transform="translate(787,886)"><use href="#tr"/><text class="e" x="-20" y="7">CLK</text></g>
<g id="clk17" transform="translate(747,926)"><use href="#tl"/><text x="19" y="7">CLK</text></g>
<g id="intr" transform="translate(907,766)"><use href="#td"/><text transform="translate(6,-20) rotate(-90)">INTR</text></g>
<g id="selflagin" transform="translate(1007,1006)"><use href="#tr"/><text class="e" x="-20" y="7.5">SEL<tspan class="s" dy="5.5">FLAGIN</tspan></text></g>

<g id="m-cflag" transform="translate(987,666)"><use href="#tr"/><text class="e" x="-20" y="7.5">C<tspan class="s" dy="5.5">FLAG</tspan></text></g>
<g id="m-zflag" transform="translate(987,686)"><use href="#tr"/><text class="e" x="-20" y="7.5">Z<tspan class="s" dy="5.5">FLAG</tspan></text></g>
<g id="m-vflag" transform="translate(987,706)"><use href="#tr"/><text class="e" x="-20" y="7.5">V<tspan class="s" dy="5.5">FLAG</tspan></text></g>
<g id="m-nflag" transform="translate(987,726)"><use href="#tr"/><text class="e" x="-20" y="7.5">N<tspan class="s" dy="5.5">FLAG</tspan></text></g>
<g id="m-calu" transform="translate(987,746)"><use href="#tr"/><text class="e" x="-20" y="7.5">C<tspan class="s" dy="5.5">ALU</tspan></text></g>
<g id="m-nb" transform="translate(987,766)"><use href="#tr"/><text class="e" x="-20" y="7.5">N<tspan class="s" dy="5.5">B</tspan></text></g>

<g id="o-const" transform="translate(1367,666)"><use href="#tl"/><text x="19" y="7">CONST</text></g>
<g id="o-selflagin" transform="translate(1367,686)"><use href="#tl"/><text x="19" y="7.5">SEL<tspan class="s" dy="5.5">FLAGIN</tspan></text></g>
<g id="o-seladdr" transform="translate(1367,706)"><use href="#tl"/><text x="19" y="7.5">SEL<tspan class="s" dy="5.5">ADDR</tspan></text></g>
<g id="o-cialu" transform="translate(1367,726)"><use href="#tl"/><text x="19" y="7.5">Ci<tspan class="s" dy="5.5">ALU</tspan></text></g>
<g id="o-incpc" transform="translate(1367,746)"><use href="#tl"/><text x="19" y="7.5">INC<tspan class="s" dy="5.5">PC</tspan></text></g>
<g id="o-rstustep" transform="translate(1367,766)"><use href="#tl"/><text x="19" y="7.5">RST<tspan class="s" dy="5.5">uSTEP</tspan></text></g>
<g id="o-updc" transform="translate(1367,786)"><use href="#tl"/><text x="19" y="7.5">UPD<tspan class="s" dy="5.5">C</tspan></text></g>
<g id="o-updz" transform="translate(1367,806)"><use href="#tl"/><text x="19" y="7.5">UPD<tspan class="s" dy="5.5">Z</tspan></text></g>
<g id="o-updi" transform="translate(1367,826)"><use href="#tl"/><text x="19" y="7.5">UPD<tspan class="s" dy="5.5">I</tspan></text></g>
<g id="o-updd" transform="translate(1367,846)"><use href="#tl"/><text x="19" y="7.5">UPD<tspan class="s" dy="5.5">D</tspan></text></g>
<g id="o-updv" transform="translate(1367,866)"><use href="#tl"/><text x="19" y="7.5">UPD<tspan class="s" dy="5.5">V</tspan></text></g>
<g id="o-updn" transform="translate(1367,886)"><use href="#tl"/><text x="19" y="7.5">UPD<tspan class="s" dy="5.5">N</tspan></text></g>
<g id="o-incaddrl" transform="translate(1367,906)"><use href="#tl"/><text x="19" y="7.5">INC<tspan class="s" dy="5.5">ADDRL</tspan></text></g>
<g id="o-incaddrh" transform="translate(1367,926)"><use href="#tl"/><text x="19" y="7.5">INC<tspan class="s" dy="5.5">ADDRH</tspan></text></g>
<g id="o-cntsp" transform="translate(1367,946)"><use href="#tl"/><text x="19" y="7.5">CNT<tspan class="s" dy="5.5">SP</tspan></text></g>
<g id="o-dirsp" transform="translate(1367,966)"><use href="#tl"/><text x="19" y="7.5">DIR<tspan class="s" dy="5.5">SP</tspan></text></g>
<g id="o-inthold" transform="translate(1367,986)"><use href="#tl"/><text x="19" y="7.5">INT<tspan class="s" dy="5.5">HOLD</tspan></text></g>

<g id="w-pcl" transform="translate(1547,686)"><use href="#tl"/><text x="19" y="7.5">WR<tspan class="s" dy="5.5">PCL</tspan></text></g>
<g id="w-pch" transform="translate(1547,706)"><use href="#tl"/><text x="19" y="7.5">WR<tspan class="s" dy="5.5">PCH</tspan></text></g>
<g id="w-addrl" transform="translate(1547,726)"><use href="#tl"/><text x="19" y="7.5">WR<tspan class="s" dy="5.5">ADDRL</tspan></text></g>
<g id="w-addrh" transform="translate(1547,746)"><use href="#tl"/><text x="19" y="7.5">WR<tspan class="s" dy="5.5">ADDRH</tspan></text></g>
<g id="w-ram" transform="translate(1547,766)"><use href="#tl"/><text x="19" y="7.5">WR<tspan class="s" dy="5.5">RAM</tspan></text></g>
<g id="w-acc" transform="translate(1547,786)"><use href="#tl"/><text x="19" y="7.5">WR<tspan class="s" dy="5.5">ACC</tspan></text></g>
<g id="w-x" transform="translate(1547,806)"><use href="#tl"/><text x="19" y="7.5">WR<tspan class="s" dy="5.5">X</tspan></text></g>
<g id="w-y" transform="translate(1547,826)"><use href="#tl"/><text x="19" y="7.5">WR<tspan class="s" dy="5.5">Y</tspan></text></g>
<g id="w-sp" transform="translate(1547,846)"><use href="#tl"/><text x="19" y="7.5">WR<tspan class="s" dy="5.5">SP</tspan></text></g>
<g id="w-a" transform="translate(1547,866)"><use href="#tl"/><text x="19" y="7.5">WR<tspan class="s" dy="5.5">A</tspan></text></g>
<g id="w-b" transform="translate(1547,886)"><use href="#tl"/><text x="19" y="7.5">WR<tspan class="s" dy="5.5">B</tspan></text></g>
<g id="w-flags" transform="translate(1547,906)"><use href="#tl"/><text x="19" y="7.5">WR<tspan class="s" dy="5.5">FLAGS</tspan></text></g>
<g id="w-inst" transform="translate(1547,926)"><use href="#tl"/><text x="19" y="7.5">WR<tspan class="s" dy="5.5">INST</tspan></text></g>

<g id="e-pcl" transform="translate(1727,686)"><use href="#tl"/><text x="19" y="7.5">OE<tspan class="s" dy="5.5">PCL</tspan></text></g>
<g id="e-pch" transform="translate(1727,706)"><use href="#tl"/><text x="19" y="7.5">OE<tspan class="s" dy="5.5">PCH</tspan></text></g>
<g id="e-addrl" transform="translate(1727,726)"><use href="#tl"/><text x="19" y="7.5">OE<tspan class="s" dy="5.5">ADDRL</tspan></text></g>
<g id="e-addrh" transform="translate(1727,746)"><use href="#tl"/><text x="19" y="7.5">OE<tspan class="s" dy="5.5">ADDRH</tspan></text></g>
<g id="e-ram" transform="translate(1727,766)"><use href="#tl"/><text x="19" y="7.5">OE<tspan class="s" dy="5.5">RAM</tspan></text></g>
<g id="e-acc" transform="translate(1727,786)"><use href="#tl"/><text x="19" y="7.5">OE<tspan class="s" dy="5.5">ACC</tspan></text></g>
<g id="e-x" transform="translate(1727,806)"><use href="#tl"/><text x="19" y="7.5">OE<tspan class="s" dy="5.5">X</tspan></text></g>
<g id="e-y" transform="translate(1727,826)"><use href="#tl"/><text x="19" y="7.5">OE<tspan class="s" dy="5.5">Y</tspan></text></g>
<g id="e-sp" transform="translate(1727,846)"><use href="#tl"/><text x="19" y="7.5">OE<tspan class="s" dy="5.5">SP</tspan></text></g>
<g id="e-a" transform="translate(1727,866)"><use href="#tl"/><text x="19" y="7.5">OE<tspan class="s" dy="5.5">A</tspan></text></g>
<g id="e-b" transform="translate(1727,886)"><use href="#tl"/><text x="19" y="7.5">OE<tspan class="s" dy="5.5">B</tspan></text></g>
<g id="e-flags" transform="translate(1727,906)"><use href="#tl"/><text x="19" y="7.5">OE<tspan class="s" dy="5.5">FLAGS</tspan></text></g>
<g id="e-alu" transform="translate(1727,926)"><use href="#tl"/><text x="19" y="7.5">OE<tspan class="s" dy="5.5">ALU</tspan></text></g>
<g id="e-const" transform="translate(1727,946)"><use href="#tl"/><text x="19" y="7.5">OE<tspan class="s" dy="5.5">CONST</tspan></text></g>
</g>
</svg>
